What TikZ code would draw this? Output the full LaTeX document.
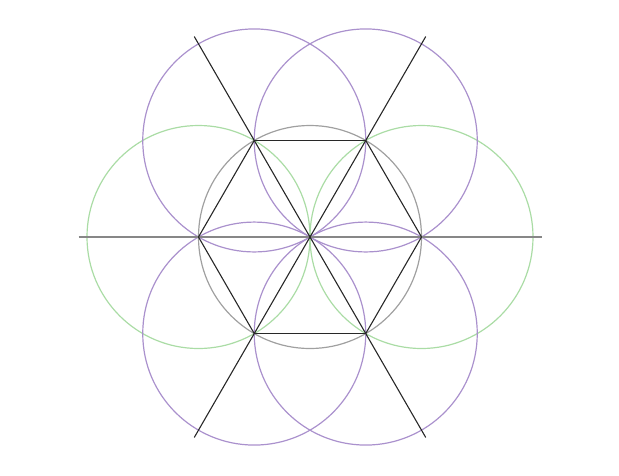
\documentclass[tikz,border=0pt]{standalone}
\usetikzlibrary{calc}
\definecolor{lilac}{RGB}{170,145,205}
\definecolor{mint}{RGB}{170,220,165}
\definecolor{greyc}{RGB}{160,160,160}
\definecolor{greyl}{RGB}{135,135,135}
\definecolor{ink}{RGB}{40,40,40}
\tikzset{
  purplecircle/.style={draw=lilac,line width=1.2pt},
  greencircle/.style={draw=mint,line width=1.2pt},
  graycircle/.style={draw=greyc,line width=1.2pt},
  axisline/.style={draw=greyl,line width=1.2pt},
  inkline/.style={draw=ink,line width=1.1pt}
}
\begin{document}
\begin{tikzpicture}[x=1pt,y=-1pt]
\useasboundingbox (0,0) rectangle (619,475);
\def\R{111.5}
\def\L{231.5}
\coordinate (O) at (310,237);
\foreach \a/\n in {0/A,60/B,120/C,180/D,240/E,300/F}{
  \coordinate (\n) at ($(O)+(\a:\R)$);
}
\foreach \a/\n in {0/P0,60/P60,120/P120,180/P180,240/P240,300/P300}{
  \coordinate (\n) at ($(O)+(\a:\L)$);
}
% circles
\draw[graycircle] (O) circle (\R);
\draw[greencircle] (A) circle (\R);
\draw[greencircle] (D) circle (\R);
\foreach \n in {B,C,E,F}{ \draw[purplecircle] (\n) circle (\R); }
% axis
\draw[axisline] (P180) -- (P0);
% long diagonals
\draw[inkline] (P60) -- (P240);
\draw[inkline] (P120) -- (P300);
% hexagon edges
\draw[inkline] (B) -- (C);
\draw[inkline] (E) -- (F);
\draw[inkline] (A) -- (B);
\draw[inkline] (A) -- (F);
\draw[inkline] (D) -- (C);
\draw[inkline] (D) -- (E);
\end{tikzpicture}
\end{document}
